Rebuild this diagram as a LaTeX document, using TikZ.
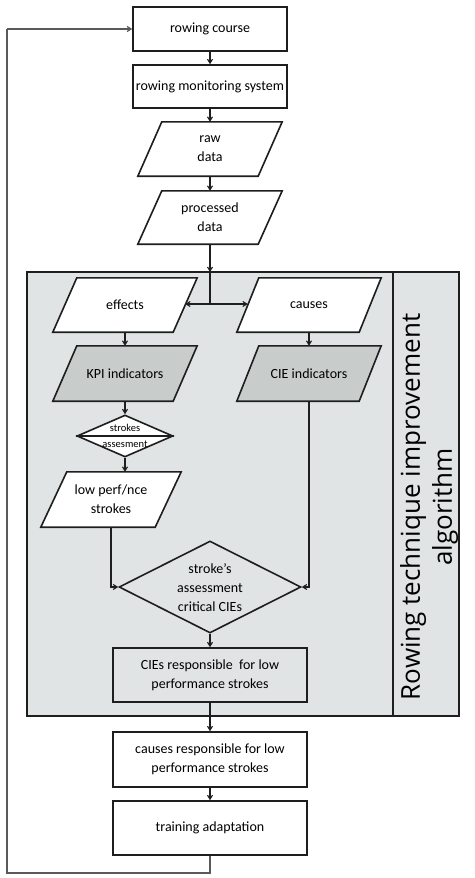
\documentclass[tikz,border=0pt]{standalone}
\usepackage{fontspec}
\setmainfont{Carlito}
\newfontfamily\lblfont{Open Sans}
\usetikzlibrary{arrows.meta,shapes.geometric,calc}
\definecolor{panel}{HTML}{E1E4E4}
\definecolor{dkfill}{HTML}{C8CDCC}
\definecolor{ink}{HTML}{1E1E1E}
\tikzset{
  txt/.style={font=\fontsize{14}{19}\selectfont},
  box/.style={draw=ink,line width=1.6pt,fill=white,minimum width=154pt,minimum height=44pt,inner sep=1pt,align=center,txt},
  paratext/.style={minimum width=#1,minimum height=54pt,inner sep=0pt,align=center},
  conn/.style={draw=ink,line width=1.1pt},
  arr/.style={conn,-{Straight Barb[length=4pt,width=5pt]}},
  dia/.style={draw=ink,line width=1.6pt,diamond,aspect=#1,inner sep=0pt,align=center},
}
\newcommand{\paradraw}[3]{% name, slant, fill
  \draw[draw=ink,line width=1.6pt,fill=#3]
    ([xshift=-#2/2]#1.south west) -- ([xshift=-#2/2]#1.south east)
    -- ([xshift=#2/2]#1.north east) -- ([xshift=#2/2]#1.north west) -- cycle;
}
\begin{document}
\begin{tikzpicture}[x=1pt,y=-1pt]
\useasboundingbox (0,0) rectangle (474,878);
% panel
\draw[draw=ink,line width=1.4pt,fill=panel] (27,272) rectangle (459,716);
\draw[draw=ink,line width=1.2pt] (393,272) -- (393,716);
\node[rotate=90,align=center,font=\lblfont\fontsize{26}{32}\selectfont] (lbl) at (429,507)
  {Rowing technique improvement\\algorithm};
% top boxes
\node[box] (course) at (210,29) {rowing course};
\node[box,minimum height=43pt] (mon) at (210,86.5) {rowing monitoring system};
% parallelograms
\node[paratext=120pt] (raw) at (210,149) {};
\paradraw{raw}{24pt}{white}
\node[align=center,txt] at (raw) {raw\\data};
\node[paratext=120pt,minimum height=53pt] (proc) at (210,217.5) {};
\paradraw{proc}{24pt}{white}
\node[align=center,txt] at (proc) {processed\\data};
\node[paratext=120pt] (eff) at (125,305) {};
\paradraw{eff}{24pt}{white}
\node[txt] at (eff) {effects};
\node[paratext=122pt] (cau) at (309,305) {};
\paradraw{cau}{22pt}{white}
\node[txt] at (cau) {causes};
\node[paratext=120pt,minimum height=55pt] (kpi) at (125,373.5) {};
\paradraw{kpi}{24pt}{dkfill}
\node[txt] at (kpi) {KPI indicators};
\node[paratext=122pt,minimum height=55pt] (cie) at (309,373.5) {};
\paradraw{cie}{22pt}{dkfill}
\node[txt] at (cie) {CIE indicators};
\node[paratext=114pt,minimum height=55pt] (low) at (111,499.5) {};
\paradraw{low}{26pt}{white}
\node[align=center,txt] at (low) {low perf/nce\\strokes};
% small diamond
\node[dia=2.29,fill=white,minimum width=96pt,minimum height=42pt] (sd) at (125,436) {};
\draw[draw=ink,line width=1.4pt] (sd.west) -- (sd.east);
\node[font=\fontsize{10.5}{12}\selectfont,inner sep=0pt] at (125,428) {strokes};
\node[font=\fontsize{10.5}{12}\selectfont,inner sep=0pt] at (125,444) {assesment};
% big diamond
\node[dia=1.98,fill=panel,minimum width=182pt,minimum height=92pt] (bd) at (210,587) {};
\node[align=center,txt] at (210,588) {stroke’s\\assessment\\critical CIEs};
% lower boxes
\node[box,fill=panel,minimum width=194pt,minimum height=54pt] (resp) at (210,675) {CIEs responsible \ for low\\performance strokes};
\node[box,minimum width=194pt,minimum height=55pt] (cresp) at (210,759.5) {causes responsible for low\\performance strokes};
\node[box,minimum width=194pt,minimum height=54pt] (train) at (210,828) {training adaptation};
% coordinates
\coordinate (ptop) at (210,272);
\coordinate (split) at (210,304);
\coordinate (loopa) at (210,873);
\coordinate (loopb) at (7,873);
\coordinate (loopc) at (7,29);
% connectors
\draw[arr] (course) -- (mon);
\draw[arr] (mon) -- (raw);
\draw[arr] (raw) -- (proc);
\draw[arr] (proc) -- (ptop);
\draw[conn,line width=1.6pt] (ptop) -- (split);
\draw[arr] (split) -- (split -| eff.east);
\draw[arr] (split) -- (split -| cau.west);
\draw[arr] (eff) -- (kpi);
\draw[arr] (cau) -- (cie);
\draw[arr] (kpi.south -| sd.north) -- (sd.north);
\draw[arr] (sd.south) -- (sd.south |- low.north);
\draw[arr] (low.south) |- (bd.west);
\draw[arr] (cie.south) |- (bd.east);
\draw[arr] (bd.south) -- (resp.north);
\draw[arr] (resp.south) -- (cresp.north);
\draw[arr] (cresp) -- (train);
\draw[draw=black!65,line width=1.8pt] (train.south) -- (loopa) -- (loopb) -- (loopc);
\draw[draw=black!65,line width=1.2pt,-{Straight Barb[length=4pt,width=5pt]}] (loopc) -- (course.west);
\end{tikzpicture}
\end{document}
